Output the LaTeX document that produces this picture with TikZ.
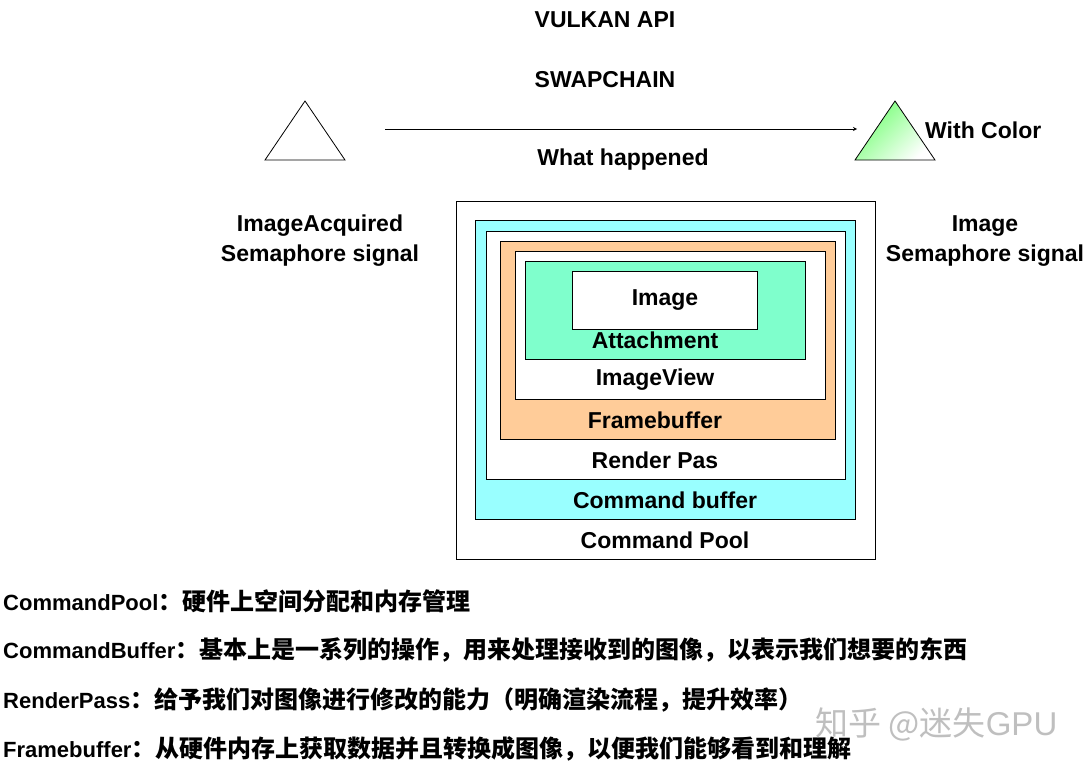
\documentclass[tikz,border=0pt]{standalone}
\usepackage{fontspec}
\setmainfont{Liberation Sans}
\newfontfamily\cjk{Noto Sans CJK SC}[Scale=1.0]
\begin{document}
\begin{tikzpicture}[x=1pt,y=-1pt,
  bx/.style={draw=black,line width=0.8pt},
  lb/.style={font=\fontsize{23}{27}\selectfont\bfseries,inner sep=0pt,align=center},
  tl/.style={font=\fontsize{22}{25}\selectfont\bfseries,inner sep=0pt,anchor=west}]
\useasboundingbox (0,0) rectangle (1089,772);
\definecolor{cy}{HTML}{99FFFF}\definecolor{orn}{HTML}{FFCC99}\definecolor{gr}{HTML}{7FFFCC}
\newcommand\zh[1]{{\fontsize{24}{28}\selectfont\cjk #1}}
\draw[bx,fill=white] (456,201) rectangle (875,559);
\draw[bx,fill=cy] (475,220) rectangle (855,519);
\draw[bx,fill=white] (486,231) rectangle (845,479);
\draw[bx,fill=orn] (500,241) rectangle (835,439);
\draw[bx,fill=white] (515,251) rectangle (825,399);
\draw[bx,fill=gr] (525,261) rectangle (805,359);
\draw[bx,fill=white] (572,271) rectangle (757,329);
\node[lb] (im) at (665,300) {Image};
\node[lb] (at) at (655,340) {Attachment};
\node[lb] (iv) at (655,380) {ImageView};
\node[lb] (fb) at (655,420) {Framebuffer};
\node[lb] (rp) at (655,460) {Render Pas};
\node[lb] (cb) at (665,500) {Command buffer};
\node[lb] (cp) at (665,540) {Command Pool};
\node[lb] (vk) at (605,20) {VULKAN API};
\node[lb] (sc) at (605,80) {SWAPCHAIN};
\node[lb] (wh) at (623,160) {What happened};
\draw[bx,fill=white] (265,160) -- (345,160) -- (305,101) -- cycle;
\draw[bx,left color=green!55,right color=white,shading angle=45] (855,160) -- (935,160) -- (895,101) -- cycle;
\coordinate (a1) at (385,129); \coordinate (a2) at (857,129);
\draw[line width=0.8pt,-stealth] (a1) -- (a2);
\node[lb,anchor=west] (wc) at (925,130) {With Color};
\node[lb] (ia) at (320,241) {ImageAcquired\\[3pt]Semaphore signal};
\node[lb] (is) at (985,241) {Image\\[3pt]Semaphore signal};
\node[tl] (t1) at (3,601) {CommandPool\zh{：硬件上空间分配和内存管理}};
\node[tl] (t2) at (3,650) {CommandBuffer\zh{：基本上是一系列的操作，用来处理接收到的图像，以表示我们想要的东西}};
\node[tl] (t3) at (3,700) {RenderPass\zh{：给予我们对图像进行修改的能力（明确渲染流程，提升效率）}};
\node[tl] (t4) at (3,749) {Framebuffer\zh{：从硬件内存上获取数据并且转换成图像，以便我们能够看到和理解}};
\node[font=\fontsize{33}{36}\selectfont,text=black!25,anchor=west,inner sep=0pt] (wm) at (815,724) {{\cjk 知乎 @迷失}GPU};
\end{tikzpicture}
\end{document}
